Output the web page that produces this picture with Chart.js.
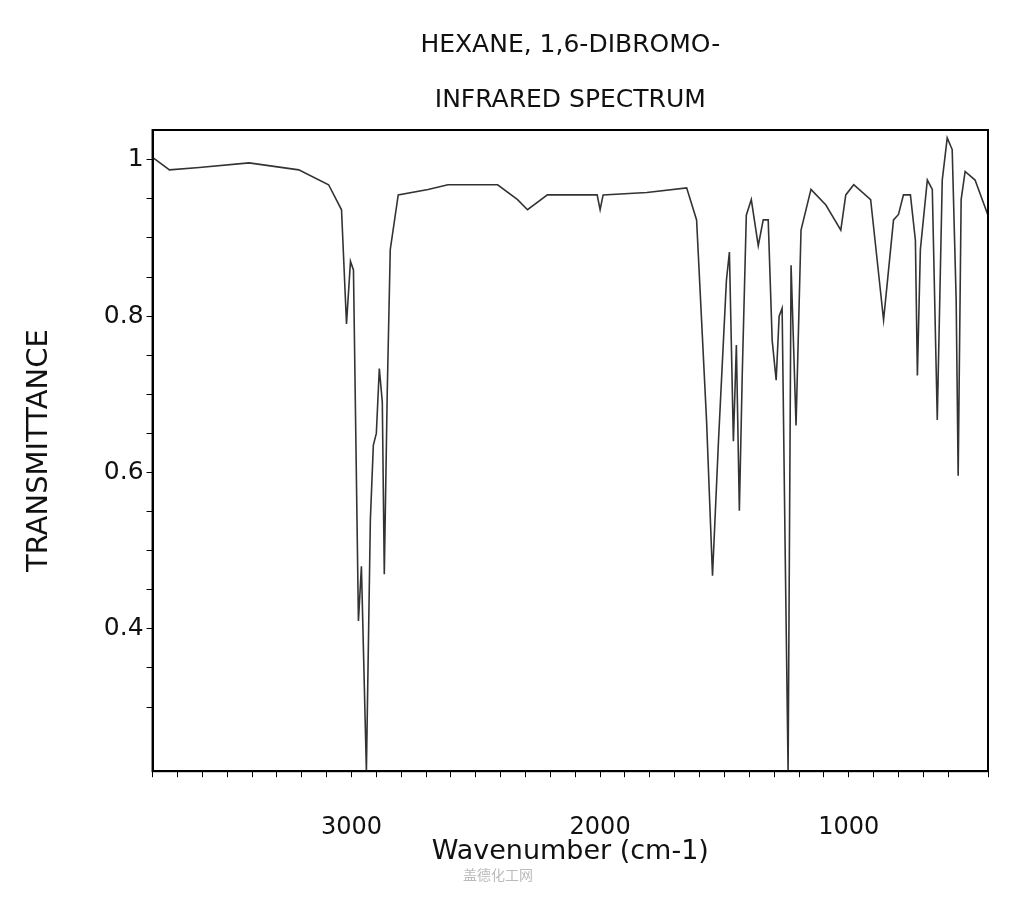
<!DOCTYPE html>
<html><head><meta charset="utf-8">
<script src="https://cdn.jsdelivr.net/npm/chart.js@4"></script>
<style>
html,body{margin:0;background:#fff;}
#wrap{position:relative;width:1024px;height:900px;}
#mark{position:absolute;left:463px;top:864px;font:14px "Noto Sans CJK SC";color:#bbb;}
</style></head>
<body><div id="wrap"><canvas id="c" width="1024" height="900"></canvas><div id="mark">盖德化工网</div></div>
<script>
// IR spectrum
const wavenumbers = [3800,3732,3612,3412,3212,3092,3040,3020,3004,2992,2972,2960,2940,2924,2912,2900,2888,2876,2868,2856,2844,2812,2692,2612,2412,2332,2292,2212,2012,2000,1988,1812,1652,1612,1572,1548,1524,1492,1480,1464,1452,1440,1428,1412,1392,1364,1344,1324,1308,1292,1280,1268,1256,1244,1232,1212,1192,1152,1092,1032,1012,980,912,892,860,844,820,800,780,752,732,724,712,684,664,644,624,604,584,568,560,548,532,492,440];
const transmittance = [1.003,0.987,0.99,0.996,0.987,0.968,0.936,0.79,0.87,0.859,0.41,0.48,0.218,0.54,0.635,0.65,0.733,0.69,0.47,0.705,0.885,0.955,0.962,0.968,0.968,0.949,0.936,0.955,0.955,0.936,0.955,0.958,0.964,0.923,0.667,0.468,0.64,0.846,0.882,0.64,0.763,0.551,0.73,0.929,0.949,0.89,0.923,0.923,0.769,0.718,0.8,0.81,0.506,0.218,0.865,0.66,0.91,0.962,0.942,0.91,0.955,0.968,0.949,0.89,0.795,0.846,0.923,0.93,0.955,0.955,0.897,0.724,0.885,0.974,0.962,0.667,0.974,1.028,1.013,0.82,0.596,0.949,0.985,0.974,0.929];
const xLabels = [1000,2000,3000];
const yLabels = [0.4,0.6,0.8,1];
const titleLines = ['HEXANE, 1,6-DIBROMO-','INFRARED SPECTRUM'];
const xTitle = 'Wavenumber (cm-1)';

const pts = wavenumbers.map((x,i)=>({x:x, y:transmittance[i]}));
const font = 'DejaVu Sans';

new Chart(document.getElementById('c'), {
  type:'line',
  data:{datasets:[{data:pts, borderColor:'#333', borderWidth:1.6, pointRadius:0, tension:0}]},
  options:{
    responsive:false, animation:false,
    layout:{padding:{left:18,right:20,top:130,bottom:22}},
    plugins:{legend:{display:false}, title:{display:false}},
    scales:{
      x:{type:'linear', reverse:true, min:440, max:3800,
        grid:{display:true, drawOnChartArea:false, color:'#000', tickLength:6},
        border:{color:'#000', width:2},
        ticks:{stepSize:100, autoSkip:false, maxRotation:0, minRotation:0, padding:36, color:'#111', font:{family:font,size:24},
          callback:v=> xLabels.includes(v) ? v : ''},
        title:{display:false}},
      y:{min:0.218, max:1.038,
        afterBuildTicks:ax=>{const t=[];for(let i=6;i<=20;i++)t.push({value:i*0.05});ax.ticks=t;},
        grid:{display:true, drawOnChartArea:false, color:'#000', tickLength:6},
        border:{color:'#000', width:2},
        ticks:{autoSkip:false, color:'#111', font:{family:font,size:25},
          callback:v=>{const r=Math.round(v*100)/100; return yLabels.includes(r) ? String(r) : '';}},
        title:{display:true, text:'TRANSMITTANCE', color:'#111', font:{family:font,size:29}, padding:{bottom:44}}}
    }
  },
  plugins:[{id:'frame',afterDraw(ch){
    const a=ch.chartArea,c=ch.ctx;c.save();c.strokeStyle='#000';c.lineWidth=2;
    c.strokeRect(a.left,a.top,a.right-a.left,a.bottom-a.top);
    c.fillStyle='#111';c.font='25px "'+font+'"';c.textAlign='center';c.textBaseline='middle';
    const cx=(a.left+a.right)/2;
    titleLines.forEach((t,i)=>c.fillText(t,cx,45+i*55));
    c.font='27px "'+font+'"';
    c.fillText(xTitle,cx,852);
    c.restore();}}]
});
</script></body></html>
